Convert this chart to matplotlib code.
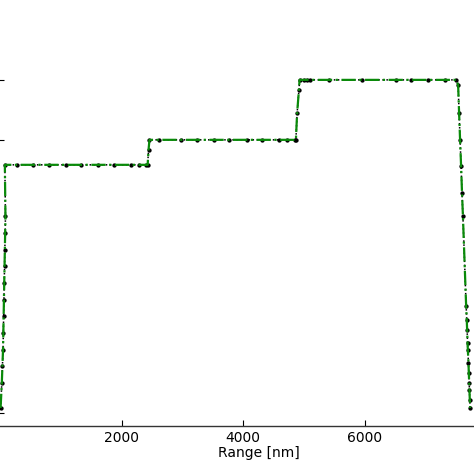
import numpy as np
import matplotlib
matplotlib.use('Agg')
import matplotlib.pyplot as plt

# depth profile (range in nm, normalised level)
rng = [10, 30, 40, 50, 55, 60, 65, 70, 75, 80, 85, 90, 80,
       280, 540, 800, 1080, 1340, 1610, 1880, 2160, 2280, 2410,
       2430, 2445, 2460,
       2620, 2980, 3250, 3520, 3770, 4060, 4310, 4590, 4720, 4850,
       4870, 4890, 4920,
       4930, 5000, 5050, 5110, 5410, 5950, 6510, 6770, 7050, 7330, 7510,
       7540, 7556, 7572, 7589, 7604, 7619,
       7672, 7682, 7688, 7695, 7700, 7710, 7716, 7722, 7726, 7732, 7737]
level = [0.015, 0.09, 0.14, 0.19, 0.24, 0.29, 0.34, 0.39, 0.44, 0.49, 0.54, 0.59, 0.745,
         0.745, 0.745, 0.745, 0.745, 0.745, 0.745, 0.745, 0.745, 0.745, 0.745,
         0.745, 0.79, 0.82,
         0.82, 0.82, 0.82, 0.82, 0.82, 0.82, 0.82, 0.82, 0.82, 0.82,
         0.82, 0.90, 0.97,
         1.0, 1.0, 1.0, 1.0, 1.0, 1.0, 1.0, 1.0, 1.0, 1.0, 1.0,
         0.985, 0.90, 0.82, 0.74, 0.66, 0.59,
         0.32, 0.28, 0.25, 0.21, 0.19, 0.15, 0.12, 0.09, 0.07, 0.04, 0.015]

xticks = [2000, 4000, 6000]
xticklabels = ['2000', '4000', '6000']
yticks = [0.0, 0.82, 1.0]

plt.rcParams['font.family'] = 'DejaVu Sans'
fig = plt.figure(figsize=(4.74, 4.74), dpi=100)

# axes runs off the left, top and right of the picture (cropped figure)
ax = fig.add_axes([-0.004, 0.1013, 1.10, 0.941])
ax.plot(rng, level, color='k', linestyle=':', linewidth=1.1,
        marker='o', markersize=2.1, zorder=2)
ax.plot(rng, level, color='#0a8a0a', linestyle='-.', linewidth=1.6, zorder=3)

ax.set_xlim(-31, 8550)
ax.set_ylim(-0.039, 1.30)
ax.set_xticks(xticks)
ax.set_xticklabels(xticklabels, fontsize=10)
ax.set_yticks(yticks)
ax.set_yticklabels([])
ax.tick_params(direction='in', length=4, width=0.8, top=False, right=False)
ax.set_xlabel('Range [nm]', fontsize=10, labelpad=1)
for s in ax.spines.values():
    s.set_linewidth(1.0)
    s.set_color('#333333')

fig.savefig('out.png', dpi=100)
